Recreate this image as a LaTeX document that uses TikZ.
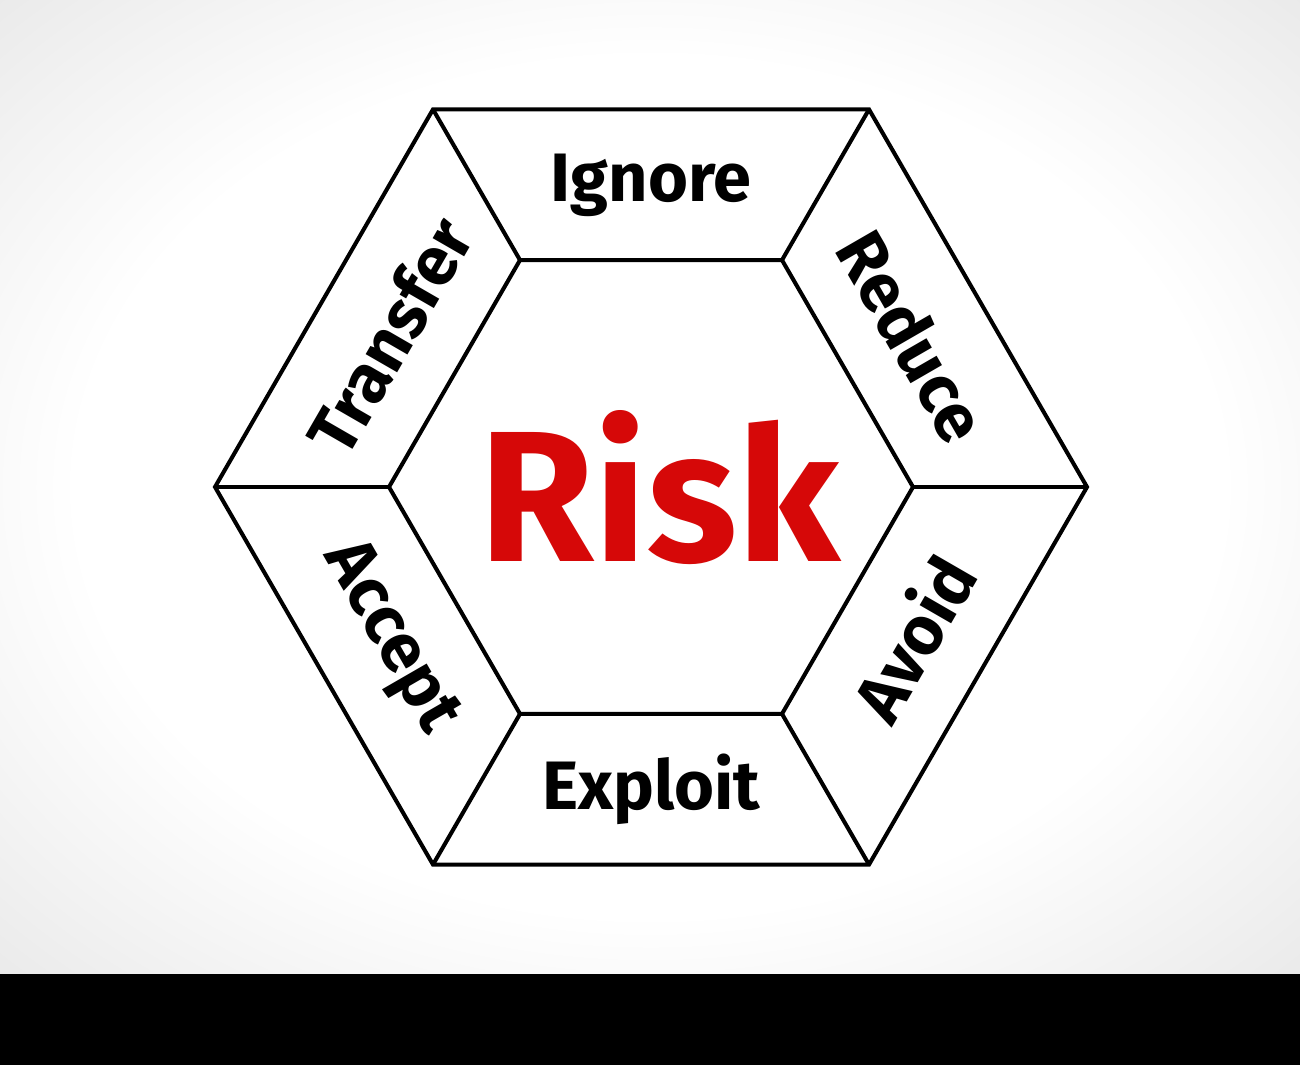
\documentclass[tikz,border=0pt]{standalone}
\usepackage{fontspec}
\setmainfont{Fira Sans}

\def\outerR{436}
\def\innerR{262}
\def\midR{302}
\colorlet{hex edge}{black}
\definecolor{risk red}{RGB}{214,8,8}
\pgfdeclareradialshading{bgglow}{\pgfpoint{0bp}{0bp}}{%
  color(0bp)=(white); color(22bp)=(white); color(50bp)=(black!17); color(72bp)=(black!24)}
\tikzset{
  hexline/.style={draw=hex edge, line width=2.3pt, line join=miter},
  riskopt/.style={font=\fontsize{39}{44}\selectfont\bfseries, text=black, inner sep=0pt},
  riskword/.style={font=\fontsize{106}{116}\selectfont\bfseries, text=risk red, inner sep=0pt}
  }

\begin{document}
\begin{tikzpicture}[x=0.02cm, y=0.02cm]
  \useasboundingbox (0,0) rectangle (1300,1065);
  \shade[shading=bgglow] (0,91) rectangle (1300,1065);
  \fill[black] (0,0) rectangle (1300,91);

  \coordinate (c) at (651,578);
  \foreach \a in {0,60,...,300} {
    \coordinate (o\a) at ([shift={(\a:\outerR)}]c);
    \coordinate (i\a) at ([shift={(\a:\innerR)}]c);
  }

  \draw[hexline] (o0) -- (o60) -- (o120) -- (o180) -- (o240) -- (o300) -- cycle;
  \draw[hexline] (i0) -- (i60) -- (i120) -- (i180) -- (i240) -- (i300) -- cycle;
  \foreach \a in {0,60,...,300} {
    \draw[hexline] (o\a) -- (i\a);
  }

  \foreach \a/\r/\name/\txt in {90/0/ignore/Ignore, 30/-60/reduce/Reduce,
      330/60/avoid/Avoid, 270/0/exploit/Exploit, 210/-60/accept/Accept,
      150/60/transfer/Transfer} {
    \node[riskopt, rotate=\r] (\name) at ([shift={(\a:\midR)}]c) {\txt};
  }

  \node[riskword, anchor=base] (risk) at (660,503) {Risk};
\end{tikzpicture}
\end{document}
